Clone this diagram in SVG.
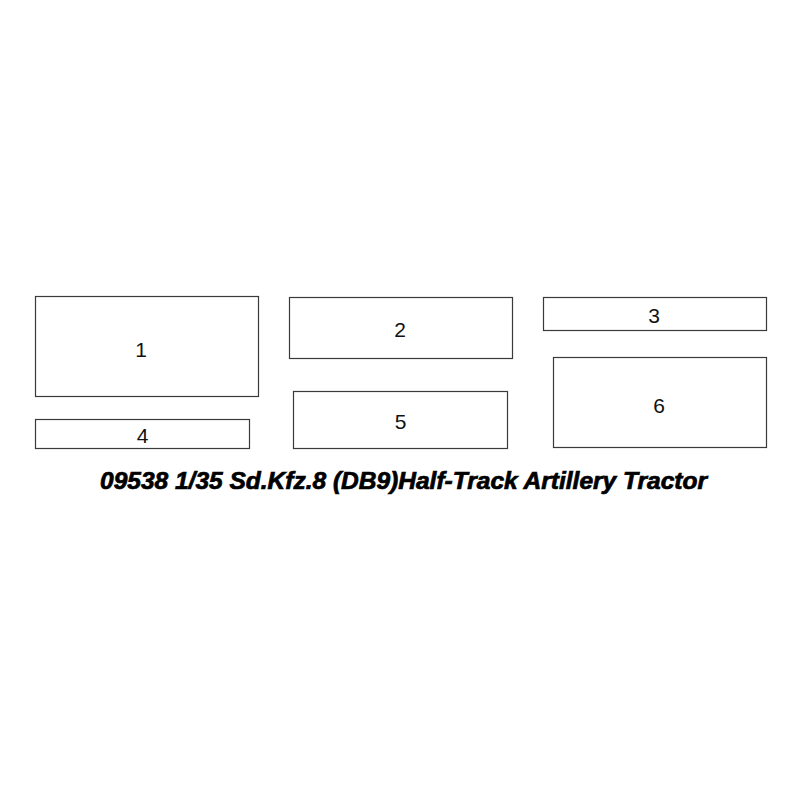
<svg xmlns="http://www.w3.org/2000/svg" width="800" height="800" viewBox="0 0 800 800">
<style>
.box{fill:#fff;stroke:#3a3a3a;stroke-width:1.2}
.lbl{font-family:"Liberation Sans",Arial,sans-serif;font-size:21px;fill:#111;text-anchor:middle}
.title{font-family:"Liberation Sans",Arial,sans-serif;font-size:23px;font-weight:bold;font-style:italic;fill:#000;stroke:#000;stroke-width:0.7}
</style>
<rect width="800" height="800" fill="#fff"/>
<g id="node1"><rect class="box" x="35.5" y="296.5" width="223" height="100"/><text class="lbl" x="141" y="357">1</text></g>
<g id="node2"><rect class="box" x="289.5" y="297.5" width="223" height="61"/><text class="lbl" x="400" y="337">2</text></g>
<g id="node3"><rect class="box" x="543.5" y="297.5" width="223" height="33"/><text class="lbl" x="654" y="323">3</text></g>
<g id="node4"><rect class="box" x="35.5" y="419.5" width="214" height="29"/><text class="lbl" x="142.5" y="443">4</text></g>
<g id="node5"><rect class="box" x="293.5" y="391.5" width="214" height="57"/><text class="lbl" x="400.5" y="429">5</text></g>
<g id="node6"><rect class="box" x="553.5" y="357.5" width="213" height="90"/><text class="lbl" x="659" y="413">6</text></g>
<g id="connectors"></g>
<text class="title" x="100" y="489" textLength="607" lengthAdjust="spacingAndGlyphs">09538 1/35 Sd.Kfz.8 (DB9)Half-Track Artillery Tractor</text>
</svg>
